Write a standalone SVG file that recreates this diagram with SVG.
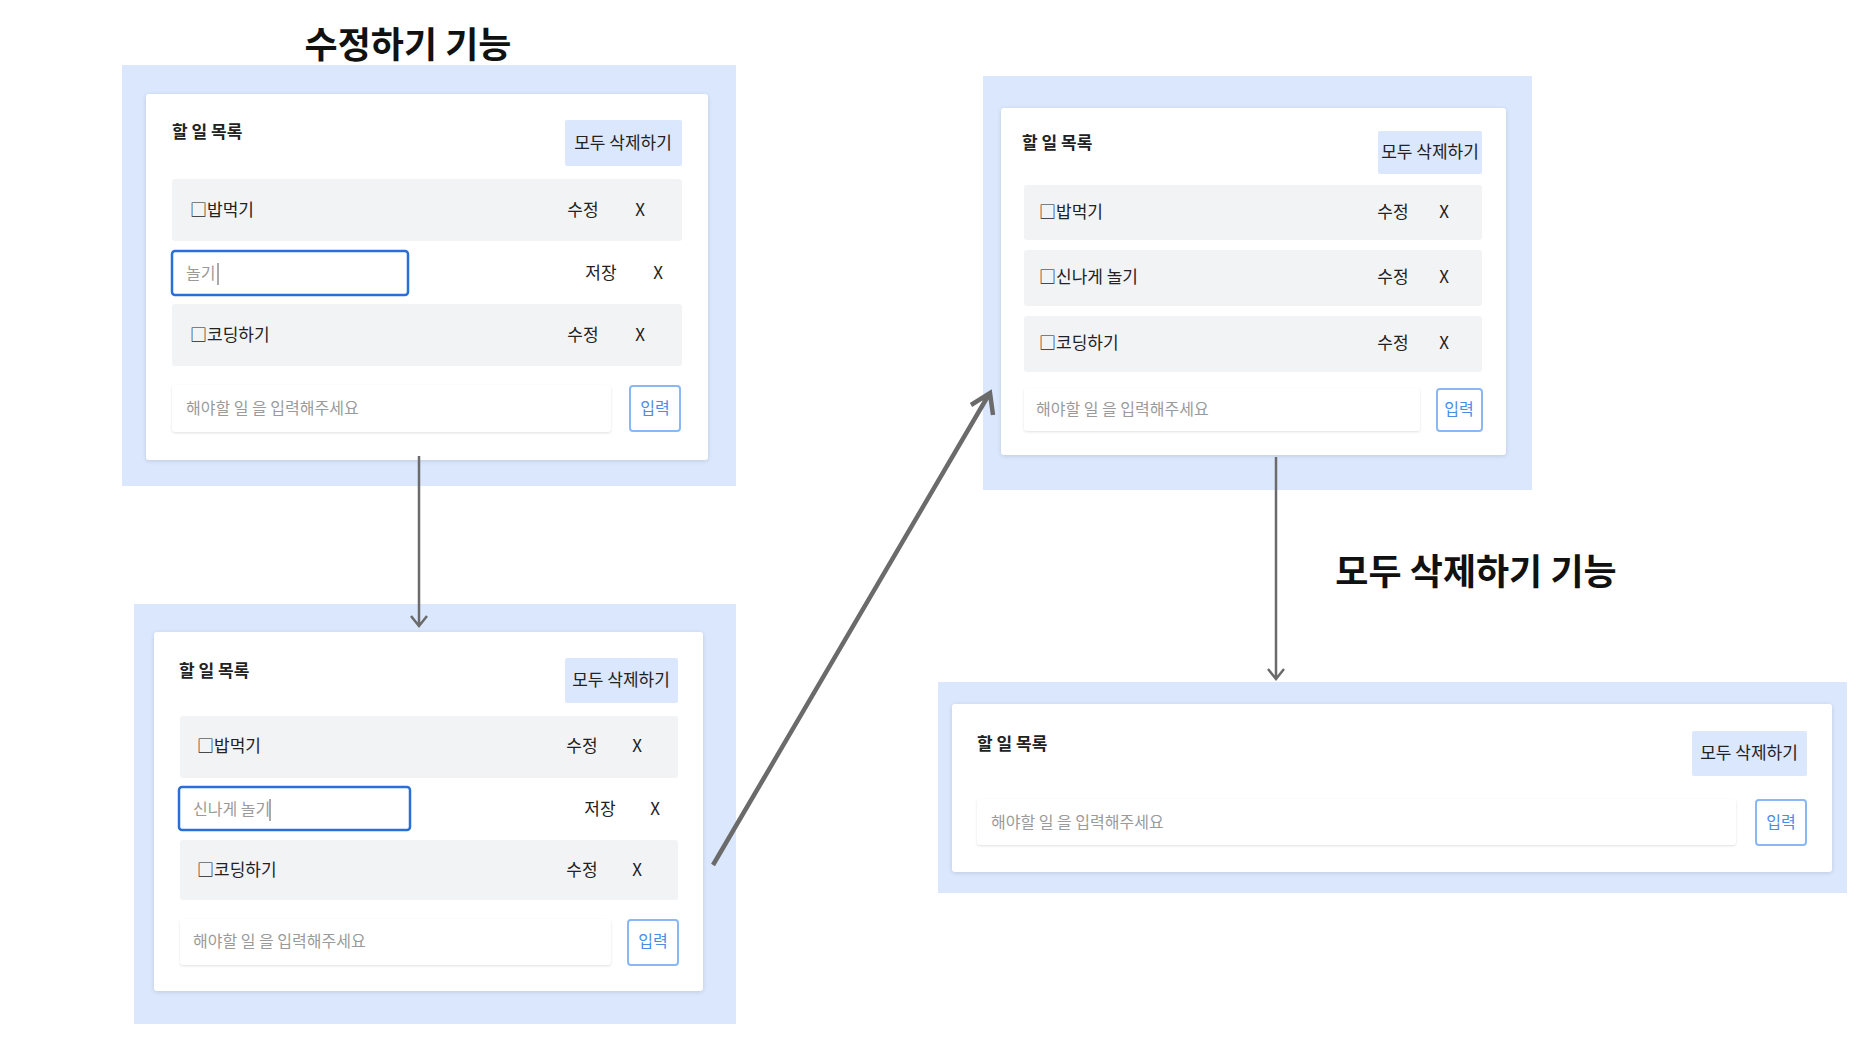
<svg xmlns="http://www.w3.org/2000/svg" width="1862" height="1052" viewBox="0 0 1862 1052">
<style>
text{font-family:"Noto Sans CJK KR","Noto Sans",sans-serif;fill:#222}
.bg{fill:#dae7fc}
.card{fill:#fff;filter:drop-shadow(0 1px 2px rgba(0,0,0,.12))}
.btn{fill:#dae7fc}
.row{fill:#f2f3f5}
.inp{fill:#fff;filter:drop-shadow(0 1px 1px rgba(0,0,0,.12))}
.ok{fill:#fff;stroke:#8ab8f5;stroke-width:2}
.edit{fill:#fff;stroke:#2a6fd6;stroke-width:2.5}
.t{font-size:17px}
.h{font-size:17px;font-weight:bold}
.ph{font-size:16px;fill:#9a9a9a}
.blue{font-size:16px;fill:#4a8be8}
.big{font-size:36px;font-weight:bold;fill:#111}
.ar{stroke:#6b6b6b;fill:none}
</style>
<text class="big" x="408" y="58" text-anchor="middle">수정하기 기능</text>
<text class="big" x="1476" y="585" text-anchor="middle">모두 삭제하기 기능</text>

<g id="panel1">
<rect class="bg" x="122" y="65" width="614" height="421"/>
<rect class="card" x="146" y="94" width="562" height="366" rx="3"/>
<text class="h" x="172" y="138">할 일 목록</text>
<rect class="btn" x="565" y="120" width="117" height="46" rx="2"/>
<text class="t" x="623" y="149" text-anchor="middle">모두 삭제하기</text>
<rect class="row" x="172" y="179" width="510" height="62" rx="3"/>
<text class="t" x="190" y="216">□밥먹기</text><text class="t" x="583" y="216" text-anchor="middle">수정</text><text class="t" x="640" y="216" text-anchor="middle">X</text>
<rect class="edit" x="172" y="251" width="236" height="44" rx="3"/>
<text class="ph" x="186" y="279">놀기</text><line x1="218" y1="263" x2="218" y2="285" stroke="#555"/>
<text class="t" x="601" y="279" text-anchor="middle">저장</text><text class="t" x="658" y="279" text-anchor="middle">X</text>
<rect class="row" x="172" y="304" width="510" height="62" rx="3"/>
<text class="t" x="190" y="341">□코딩하기</text><text class="t" x="583" y="341" text-anchor="middle">수정</text><text class="t" x="640" y="341" text-anchor="middle">X</text>
<rect class="inp" x="172" y="385" width="439" height="47" rx="3"/>
<text class="ph" x="186" y="414">해야할 일 을 입력해주세요</text>
<rect class="ok" x="630" y="386" width="50" height="45" rx="3"/>
<text class="blue" x="655" y="414" text-anchor="middle">입력</text>
</g>

<g id="panel2">
<rect class="bg" x="134" y="604" width="602" height="420"/>
<rect class="card" x="154" y="632" width="549" height="359" rx="3"/>
<text class="h" x="179" y="677">할 일 목록</text>
<rect class="btn" x="565" y="658" width="113" height="45" rx="2"/>
<text class="t" x="621" y="686" text-anchor="middle">모두 삭제하기</text>
<rect class="row" x="180" y="716" width="498" height="62" rx="3"/>
<text class="t" x="197" y="752">□밥먹기</text><text class="t" x="582" y="752" text-anchor="middle">수정</text><text class="t" x="637" y="752" text-anchor="middle">X</text>
<rect class="edit" x="179" y="787" width="231" height="43" rx="3"/>
<text class="ph" x="193" y="815">신나게 놀기</text><line x1="270" y1="799" x2="270" y2="821" stroke="#555"/>
<text class="t" x="600" y="815" text-anchor="middle">저장</text><text class="t" x="655" y="815" text-anchor="middle">X</text>
<rect class="row" x="180" y="840" width="498" height="60" rx="3"/>
<text class="t" x="197" y="876">□코딩하기</text><text class="t" x="582" y="876" text-anchor="middle">수정</text><text class="t" x="637" y="876" text-anchor="middle">X</text>
<rect class="inp" x="180" y="919" width="431" height="46" rx="3"/>
<text class="ph" x="193" y="947">해야할 일 을 입력해주세요</text>
<rect class="ok" x="628" y="920" width="50" height="45" rx="3"/>
<text class="blue" x="653" y="947" text-anchor="middle">입력</text>
</g>

<g id="panel3">
<rect class="bg" x="983" y="76" width="549" height="414"/>
<rect class="card" x="1001" y="108" width="505" height="347" rx="3"/>
<text class="h" x="1022" y="149">할 일 목록</text>
<rect class="btn" x="1378" y="131" width="104" height="43" rx="2"/>
<text class="t" x="1430" y="158" text-anchor="middle">모두 삭제하기</text>
<rect class="row" x="1024" y="185" width="458" height="55" rx="3"/>
<text class="t" x="1039" y="218">□밥먹기</text><text class="t" x="1393" y="218" text-anchor="middle">수정</text><text class="t" x="1444" y="218" text-anchor="middle">X</text>
<rect class="row" x="1024" y="250" width="458" height="56" rx="3"/>
<text class="t" x="1039" y="283">□신나게 놀기</text><text class="t" x="1393" y="283" text-anchor="middle">수정</text><text class="t" x="1444" y="283" text-anchor="middle">X</text>
<rect class="row" x="1024" y="316" width="458" height="56" rx="3"/>
<text class="t" x="1039" y="349">□코딩하기</text><text class="t" x="1393" y="349" text-anchor="middle">수정</text><text class="t" x="1444" y="349" text-anchor="middle">X</text>
<rect class="inp" x="1024" y="388" width="396" height="43" rx="3"/>
<text class="ph" x="1036" y="415">해야할 일 을 입력해주세요</text>
<rect class="ok" x="1437" y="389" width="45" height="42" rx="3"/>
<text class="blue" x="1459" y="415" text-anchor="middle">입력</text>
</g>

<g id="panel4">
<rect class="bg" x="938" y="682" width="909" height="211"/>
<rect class="card" x="952" y="704" width="880" height="168" rx="3"/>
<text class="h" x="977" y="750">할 일 목록</text>
<rect class="btn" x="1692" y="731" width="115" height="45" rx="2"/>
<text class="t" x="1749" y="759" text-anchor="middle">모두 삭제하기</text>
<rect class="inp" x="977" y="799" width="759" height="46" rx="3"/>
<text class="ph" x="991" y="828">해야할 일 을 입력해주세요</text>
<rect class="ok" x="1756" y="800" width="50" height="45" rx="3"/>
<text class="blue" x="1781" y="828" text-anchor="middle">입력</text>
</g>

<g id="connectors">
<path class="ar" stroke-width="2.5" d="M419 456V626M411 616L419 626L427 616"/>
<path class="ar" stroke-width="2.5" d="M1276 457V679M1268 669L1276 679L1284 669"/>
<path class="ar" stroke-width="4.5" d="M713 865L988 396M971 405L990 393L993 415"/>
</g>
</svg>
